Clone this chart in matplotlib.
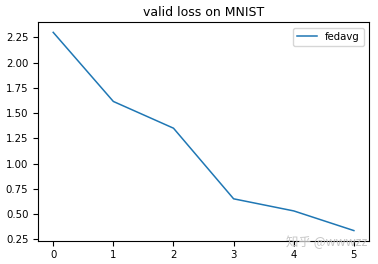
import matplotlib
matplotlib.use("Agg")
import matplotlib.pyplot as plt

rounds = [0, 1, 2, 3, 4, 5]
valid_loss = [2.30, 1.615, 1.35, 0.65, 0.53, 0.335]

plt.rcParams['font.family'] = ['DejaVu Sans', 'Noto Sans CJK SC']
plt.rcParams['font.size'] = 7.3

fig = plt.figure(figsize=(3.78, 2.64), dpi=100)
ax = fig.add_axes([0.101, 0.089, 0.875, 0.826])
ax.plot(rounds, valid_loss, color='#1f77b4', linewidth=1.1, label='fedavg')
ax.set_title('valid loss on MNIST', fontsize=9, pad=4.3)
ax.set_yticks([0.25, 0.5, 0.75, 1.0, 1.25, 1.5, 1.75, 2.0, 2.25])
ax.legend(loc='upper right', fontsize=7.3)

# 水印
fig.text(0.972, 0.082, '知乎 @wwwzz', ha='right', va='center', fontsize=9,
         color='#c0c0c0', alpha=0.9, family=['Noto Sans CJK SC', 'DejaVu Sans'])

fig.savefig('out.png', dpi=100)
